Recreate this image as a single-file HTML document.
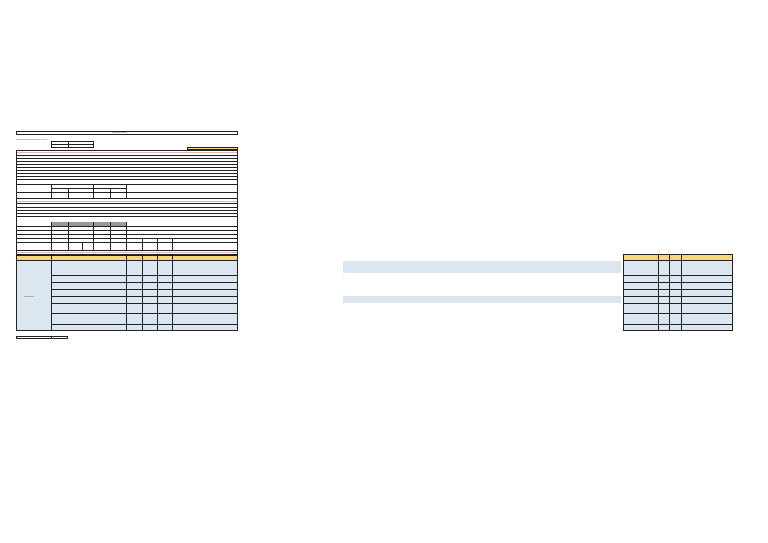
<!DOCTYPE html>
<html><head><meta charset="utf-8"><style>
body{margin:0;width:768px;height:543px;background:#fff;position:relative;overflow:hidden;font-family:"Liberation Sans",sans-serif;font-size:2px;color:#333}
div{position:absolute;box-sizing:border-box}
.b{border:1px solid #222}
.h{background:#222;height:1px}
.v{background:#222;width:1px}
.p{background:#e8b4b4;height:1px}
.t{font-size:2px;color:#555;white-space:nowrap}
</style></head><body>
<!-- title -->
<div class="b" style="left:16px;top:131px;width:222px;height:4px"></div>
<div class="t" style="left:112px;top:132px">xxxxxxxxxxxxxxx</div>
<div class="t" style="left:16px;top:139px">xxxxxxxxxxxxxxxxxxxxxxxxxxxxxxx</div>
<div class="b" style="left:51px;top:141px;width:43px;height:7px"></div>
<div class="v" style="left:68px;top:141px;height:7px"></div>
<div class="h" style="left:51px;top:144px;width:43px"></div>
<div style="left:187px;top:147px;width:51px;height:3px;background:#f7d77a;border:1px solid #222"></div>
<!-- form box -->
<div class="b" style="left:16px;top:150px;width:222px;height:105px"></div>
<div class="p" style="left:17px;top:152px;width:220px"></div>
<div class="h" style="left:16px;top:155px;width:222px"></div>
<div class="h" style="left:16px;top:158px;width:222px"></div>
<div class="h" style="left:16px;top:161px;width:222px"></div>
<div class="h" style="left:16px;top:164px;width:222px"></div>
<div class="h" style="left:16px;top:167px;width:222px"></div>
<div class="h" style="left:16px;top:170px;width:222px"></div>
<div class="h" style="left:16px;top:173px;width:222px"></div>
<div class="h" style="left:16px;top:176px;width:222px"></div>
<div class="h" style="left:16px;top:179px;width:222px"></div>
<div class="h" style="left:16px;top:184px;width:222px"></div>
<div class="h" style="left:51px;top:188px;width:75px"></div>
<div class="h" style="left:16px;top:192px;width:222px"></div>
<div class="h" style="left:16px;top:198px;width:222px"></div>
<div class="v" style="left:51px;top:184px;height:14px"></div>
<div class="v" style="left:68px;top:188px;height:10px"></div>
<div class="v" style="left:93px;top:184px;height:14px"></div>
<div class="v" style="left:110px;top:188px;height:10px"></div>
<div class="v" style="left:126px;top:184px;height:14px"></div>
<div class="p" style="left:17px;top:201px;width:220px"></div>
<div class="h" style="left:16px;top:203px;width:222px"></div>
<div class="h" style="left:16px;top:207px;width:222px"></div>
<div class="h" style="left:16px;top:210px;width:222px"></div>
<div class="h" style="left:16px;top:213px;width:222px"></div>
<div class="h" style="left:16px;top:216px;width:222px"></div>
<div style="left:51px;top:222px;width:75px;height:4px;background:#999"></div>
<div class="h" style="left:16px;top:226px;width:222px"></div>
<div class="h" style="left:16px;top:230px;width:222px"></div>
<div class="h" style="left:16px;top:234px;width:222px"></div>
<div class="h" style="left:16px;top:238px;width:222px"></div>
<div class="v" style="left:51px;top:222px;height:28px"></div>
<div class="v" style="left:68px;top:222px;height:28px"></div>
<div class="v" style="left:93px;top:222px;height:28px"></div>
<div class="v" style="left:110px;top:222px;height:28px"></div>
<div class="v" style="left:126px;top:222px;height:28px"></div>
<div class="v" style="left:142px;top:238px;height:12px"></div>
<div class="v" style="left:157px;top:238px;height:12px"></div>
<div class="v" style="left:172px;top:238px;height:12px"></div>
<div class="v" style="left:82px;top:242px;height:8px"></div>
<div class="h" style="left:16px;top:242px;width:222px"></div>
<div class="h" style="left:16px;top:250px;width:222px"></div>
<div class="p" style="left:17px;top:252px;width:220px"></div>
<!-- main table left -->
<div style="left:16px;top:255px;width:222px;height:6px;background:#f7d77a;border:1px solid #222"></div>
<div style="left:16px;top:261px;width:222px;height:70px;background:#dce6f1;border:1px solid #222;border-top:none"></div>
<div class="v" style="left:51px;top:255px;height:76px"></div>
<div class="v" style="left:126px;top:255px;height:76px"></div>
<div class="v" style="left:142px;top:255px;height:76px"></div>
<div class="v" style="left:157px;top:255px;height:76px"></div>
<div class="v" style="left:172px;top:255px;height:76px"></div>
<div class="h" style="left:51px;top:275px;width:187px"></div>
<div class="h" style="left:51px;top:282px;width:187px"></div>
<div class="h" style="left:51px;top:289px;width:187px"></div>
<div class="h" style="left:51px;top:296px;width:187px"></div>
<div class="h" style="left:51px;top:303px;width:187px"></div>
<div class="h" style="left:51px;top:313px;width:187px"></div>
<div class="h" style="left:51px;top:324px;width:187px"></div>
<div class="t" style="left:24px;top:296px">xxxxxxxxxx</div>
<div class="b" style="left:16px;top:336px;width:52px;height:3px"></div>
<div class="v" style="left:51px;top:336px;height:3px"></div>
<!-- blue bands -->
<div style="left:343px;top:261px;width:278px;height:12px;background:#dce6f1"></div>
<div style="left:343px;top:296px;width:278px;height:7px;background:#dce6f1"></div>
<!-- right table -->
<div style="left:623px;top:254px;width:110px;height:7px;background:#f7d77a;border:1px solid #222"></div>
<div style="left:623px;top:261px;width:110px;height:70px;background:#dce6f1;border:1px solid #222;border-top:none"></div>
<div class="v" style="left:658px;top:254px;height:77px"></div>
<div class="v" style="left:669px;top:254px;height:77px"></div>
<div class="v" style="left:681px;top:254px;height:77px"></div>
<div class="h" style="left:623px;top:275px;width:110px"></div>
<div class="h" style="left:623px;top:282px;width:110px"></div>
<div class="h" style="left:623px;top:289px;width:110px"></div>
<div class="h" style="left:623px;top:296px;width:110px"></div>
<div class="h" style="left:623px;top:303px;width:110px"></div>
<div class="h" style="left:623px;top:313px;width:110px"></div>
<div class="h" style="left:623px;top:324px;width:110px"></div>
</body></html>
